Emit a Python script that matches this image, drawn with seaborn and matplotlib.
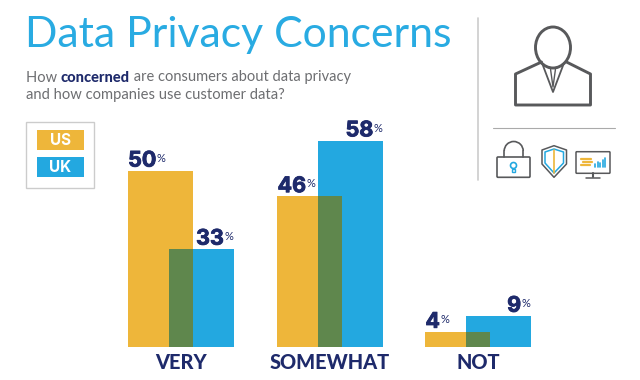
import matplotlib
matplotlib.use("Agg")
import matplotlib.patheffects as pe
import matplotlib.pyplot as plt
import pandas as pd
import seaborn as sns
from matplotlib.patches import Arc, Ellipse, FancyBboxPatch, Polygon, Rectangle

# --- DATA ---
LEVELS = ["VERY", "SOMEWHAT", "NOT"]
US_LABELS = [50, 46, 4]
UK_LABELS = [33, 58, 9]
# the drawn bars do not follow the printed numbers exactly, so heights are read separately
US_HEIGHTS = [49.5, 42.3, 4.1]
UK_HEIGHTS = [27.5, 58.0, 8.6]

# --- STYLE ---
US_COLOR = "#EEB63A"
UK_COLOR = "#23A8E0"
BOTH_COLOR = "#5F874D"
NAVY = "#1E2A6B"
GREY = "#6D6E71"
ICON = "#58595B"
FONT = "Lato"
HEAVY = ["Inter", "Lato", "DejaVu Sans"]
FATTEN = [pe.withStroke(linewidth=0.6, foreground=NAVY)]

W, H = 640, 380
PX_PER_GROUP = 148.67
GROUP_NUDGE_PX = [0, 0.8, 0]
BAR_PX = 65
SHIFT_PX = 20.5


def draw_bars(ax, heights, color, width_px, shift_px=0):
    before = len(ax.patches)
    df = pd.DataFrame({"level": LEVELS, "height": heights})
    sns.barplot(data=df, x="level", y="height", color=color, saturation=1,
                width=width_px / PX_PER_GROUP, linewidth=0, ax=ax)
    bars = ax.patches[before:]
    for bar, nudge in zip(bars, GROUP_NUDGE_PX):
        bar.set_x(bar.get_x() + (shift_px + nudge) / PX_PER_GROUP)
    return bars


def label_left(ax, bar, value):
    height = bar.get_height()
    num = ax.annotate(str(value), xy=(bar.get_x(), height), xytext=(0.3, 3),
                      textcoords="offset points", ha="left", va="baseline",
                      fontsize=15.5, fontweight="bold", family=HEAVY, color=NAVY, path_effects=FATTEN)
    ax.annotate("%", xy=(1, height), xycoords=(num, "data"), xytext=(0.2, 6.4), textcoords="offset points",
                ha="left", va="baseline", fontsize=8, color=NAVY)


def label_right(ax, bar, value):
    height = bar.get_height()
    pct = ax.annotate("%", xy=(bar.get_x() + bar.get_width(), height), xytext=(-0.5, 6.4),
                      textcoords="offset points", ha="right", va="baseline",
                      fontsize=8, color=NAVY)
    ax.annotate(str(value), xy=(0, height), xycoords=(pct, "data"), xytext=(-0.2, 3), textcoords="offset points",
                ha="right", va="baseline", fontsize=15.5, fontweight="bold", family=HEAVY, color=NAVY,
                path_effects=FATTEN)


def draw_icons(ov):
    # frame lines
    ov.plot([478, 478], [18, 180], color="#CCCCCC", lw=1.2)
    ov.plot([493, 615], [128, 128], color="#AAAAAA", lw=0.8)

    # person
    ov.add_patch(Ellipse((553, 47.5), 35, 41, fill=False, ec=ICON, lw=2.1))
    ov.plot([541.5, 515.5, 515.5, 590.5, 590.5, 566.5], [62, 74, 105, 105, 74, 62],
            color=ICON, lw=2.1, solid_joinstyle="round", solid_capstyle="round")
    ov.plot([542, 553, 564], [63, 92, 63], color=ICON, lw=1.3)
    ov.plot([549, 557], [68, 68], color=ICON, lw=1.3)
    ov.plot([550.5, 553, 555.5], [69, 87, 69], color=ICON, lw=1)

    # lock
    ov.add_patch(Arc((513.7, 151), 19, 19, theta1=180, theta2=360, ec=ICON, lw=1.2))
    ov.plot([504.2, 504.2], [151, 157], color=ICON, lw=1.2)
    ov.plot([523.2, 523.2], [151, 157], color=ICON, lw=1.2)
    ov.add_patch(FancyBboxPatch((497, 157), 33, 20.3, boxstyle="round,pad=0,rounding_size=1",
                                fill=False, ec=ICON, lw=1.2))
    ov.add_patch(Ellipse((513.5, 165.5), 6, 6, fill=False, ec=UK_COLOR, lw=1.2))
    ov.add_patch(Rectangle((512, 168.5), 3, 3.5, fill=False, ec=UK_COLOR, lw=1))

    # shield
    ov.add_patch(Polygon([(542, 150), (554, 145.7), (566.5, 150), (566.5, 164), (554, 177.3), (542, 164)],
                         closed=True, fill=False, ec=ICON, lw=1.1, joinstyle="round"))
    ov.add_patch(Polygon([(545, 152), (554, 149), (563.5, 152), (563.5, 163), (554, 173), (545, 163)],
                         closed=True, fill=False, ec=UK_COLOR, lw=1.1, joinstyle="round"))
    ov.plot([554, 554], [149.5, 172.5], color=US_COLOR, lw=1.2)

    # monitor
    ov.add_patch(FancyBboxPatch((576, 151.7), 34, 21.6, boxstyle="round,pad=0,rounding_size=0.8",
                                fill=False, ec=ICON, lw=1.1))
    ov.plot([593, 593], [173.3, 177], color=ICON, lw=1.5)
    ov.plot([586, 600], [177.5, 177.5], color=ICON, lw=1.1)
    for y, x0, x1 in [(159, 581, 591), (162, 583, 592), (165, 581, 590)]:
        ov.plot([x0, x1], [y, y], color=US_COLOR, lw=1.6)
    for x, top in [(595, 164), (597.5, 162), (600, 163), (602.5, 160), (605, 158)]:
        ov.plot([x, x], [top, 167], color=UK_COLOR, lw=1.2)


def main():
    sns.set_theme(style="white")
    plt.rcParams["font.family"] = [FONT, "DejaVu Sans"]

    fig = plt.figure(figsize=(W / 100, H / 100), dpi=100, facecolor="white")

    # bars: fixed axes so that category 0 sits at x=180.65px and the baseline at y=346.5px
    left, right, top, base = 100, 560, 120, 346.5
    ax = fig.add_axes([left / W, 1 - base / H, (right - left) / W, (base - top) / H])
    us_bars = draw_bars(ax, US_HEIGHTS, US_COLOR, BAR_PX, -SHIFT_PX)
    uk_bars = draw_bars(ax, UK_HEIGHTS, UK_COLOR, BAR_PX, SHIFT_PX)
    both = [min(a, b) for a, b in zip(US_HEIGHTS, UK_HEIGHTS)]
    draw_bars(ax, both, BOTH_COLOR, BAR_PX - 2 * SHIFT_PX)

    ax.set_xlim((left - 180.65) / PX_PER_GROUP, (right - 180.65) / PX_PER_GROUP)
    ax.set_ylim(0, (base - top) / 3.55)
    ax.set_xlabel("")
    ax.set_ylabel("")
    ax.set_yticks([])
    ax.tick_params(axis="x", length=0, pad=5)
    for tick in ax.get_xticklabels():
        tick.set_fontsize(14.4)
        tick.set_fontweight(900)
        tick.set_color(NAVY)
    sns.despine(ax=ax, left=True, bottom=True)
    ax.patch.set_alpha(0)

    for bar, value in zip(us_bars, US_LABELS):
        label_left(ax, bar, value)
    for bar, value in zip(uk_bars, UK_LABELS):
        label_right(ax, bar, value)

    # overlay in pixel coordinates for the header, legend and icons
    ov = fig.add_axes([0, 0, 1, 1], zorder=-1)
    ov.set_xlim(0, W)
    ov.set_ylim(H, 0)
    ov.axis("off")

    ov.text(25, 47, "Data Privacy Concerns", fontsize=30.8, fontweight="normal", color="#29ABE2", va="baseline")

    first = ov.text(26, 81.5, "How ", fontsize=10.5, color=GREY, va="baseline")
    second = ov.annotate("concerned", xy=(1, 0), xycoords=first, va="bottom", ha="left",
                         fontsize=10.5, fontweight=900, color=NAVY)
    ov.annotate(" are consumers about data privacy", xy=(1, 0), xycoords=second, va="bottom", ha="left",
                fontsize=10.5, color=GREY)
    ov.text(26, 98.5, "and how companies use customer data?", fontsize=10.65, color=GREY, va="baseline")

    # legend
    ov.add_patch(Rectangle((26, 121.5), 68.3, 66, fill=False, ec="#CCCCCC", lw=1))
    ov.add_patch(Rectangle((36.7, 130.3), 47, 19.7, fc=US_COLOR, ec="none"))
    ov.add_patch(Rectangle((36.7, 157.3), 47, 20, fc=UK_COLOR, ec="none"))
    ov.text(60.2, 140.4, "US", color="white", fontsize=11, fontweight="bold", family=HEAVY, ha="center", va="center")
    ov.text(60.2, 167.5, "UK", color="white", fontsize=11, fontweight="bold", family=HEAVY, ha="center", va="center")

    draw_icons(ov)

    fig.savefig("out.png", dpi=100)


if __name__ == "__main__":
    main()
